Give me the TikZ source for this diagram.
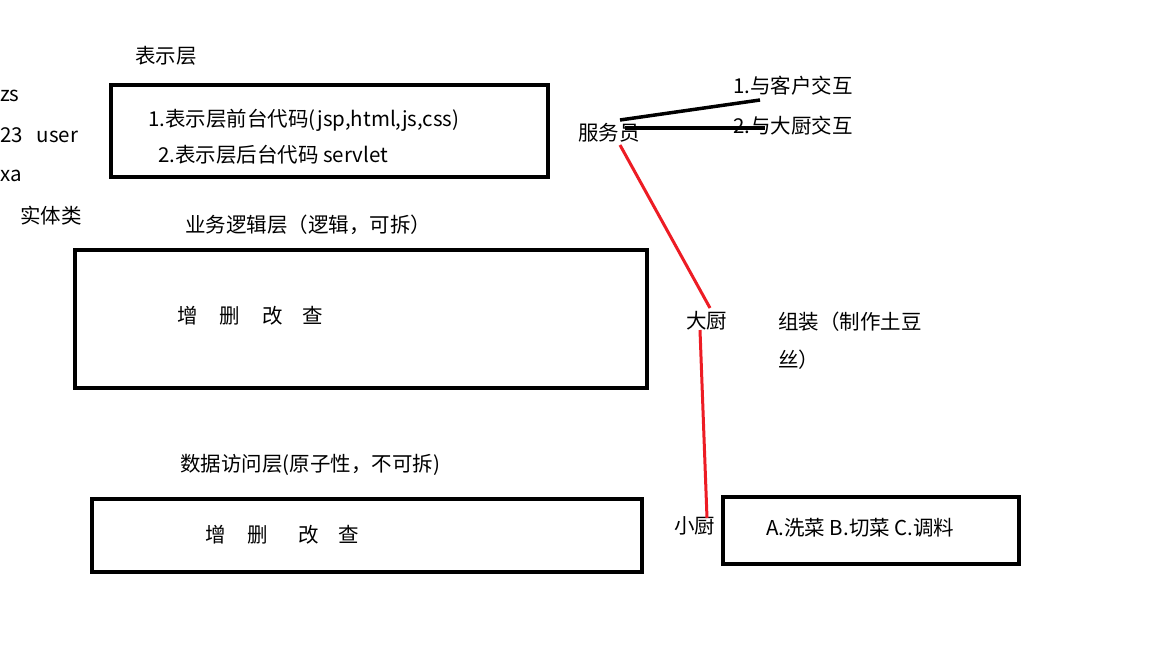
\documentclass[tikz,border=0pt]{standalone}
\usepackage{fontspec}
\setmainfont{Noto Sans CJK SC}
\begin{document}
\begin{tikzpicture}[x=1pt,y=-1pt,
  box/.style={draw=black,line width=3.5pt},
  t/.style={anchor=west,inner sep=0pt,font=\fontsize{20.5}{24}\selectfont},
  red/.style={draw={rgb,255:red,237;green,28;blue,36},line width=3pt},
  blk/.style={draw=black,line width=3.5pt}]
\useasboundingbox[fill=white] (0,0) rectangle (1152,648);
\node[t] (l0) at (135,56) {表示层};
\draw[box] (111,85) rectangle (548,177);
\node[t] (l1) at (148,120) {1.表示层前台代码(jsp,html,js,css)};
\node[t] (l2) at (158,155) {2.表示层后台代码 servlet};
\node[t] (zs) at (0,96) {zs};
\node[t] (us) at (0,135) {23\hspace{14pt}user};
\node[t] (xa) at (0,176) {xa};
\node[t] (st) at (20,216) {实体类};
\node[t] (b0) at (185,225) {业务逻辑层（逻辑，可拆）};
\draw[box] (75,250) rectangle (647,388);
\node[t] (b1) at (177,316) {增\hspace{22pt}删\hspace{22pt}改\hspace{20pt}查};
\node[t] (d0) at (180,465) {数据访问层(原子性，不可拆)};
\draw[box] (92,499) rectangle (642,572);
\node[t] (d1) at (205,535) {增\hspace{22pt}删\hspace{30pt}改\hspace{20pt}查};
\node[t] (fw) at (578,133) {服务员};
\node[t] (k1) at (733,86) {1.与客户交互};
\node[t] (k2) at (733,126) {2.与大厨交互};
\coordinate (f1) at (620,120); \coordinate (e1) at (760,100);
\coordinate (f2) at (625,128); \coordinate (e2) at (765,128);
\draw[blk] (f1) -- (e1);
\draw[blk] (f2) -- (e2);
\node[t] (dc) at (686,321) {大厨};
\node[t] (xc) at (674,526) {小厨};
\coordinate (r1) at (620,145); \coordinate (r2) at (710,308);
\coordinate (r3) at (700,330); \coordinate (r4) at (707,518);
\draw[red] (r1) -- (r2);
\draw[red] (r3) -- (r4);
\node[t] (zz) at (778,322) {组装（制作土豆};
\node[t] (zz2) at (778,360) {丝）};
\draw[box] (723,497) rectangle (1019,564);
\node[t] (ab) at (766,528) {A.洗菜 B.切菜 C.调料};
\end{tikzpicture}
\end{document}
